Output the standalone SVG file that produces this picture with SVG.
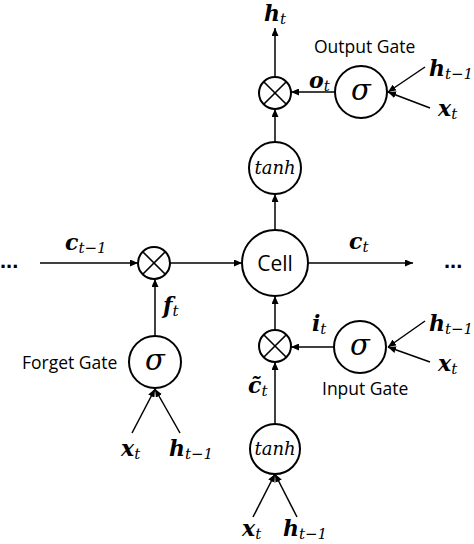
<svg xmlns="http://www.w3.org/2000/svg" width="474" height="544" viewBox="0 0 474 544">
<style>
.node{fill:#fff;stroke:#000;stroke-width:2}
.x{stroke:#000;stroke-width:1.6;fill:none}
.c{stroke:#000;stroke-width:1.5;fill:none}
.m{font-family:"DejaVu Serif",serif;font-style:italic;font-weight:bold;font-size:22px;fill:#000}
.s{font-weight:normal;font-size:15px}
.sig{font-family:"DejaVu Serif",serif;font-style:italic;font-size:29px;fill:#000;text-anchor:middle}
.th{font-family:"DejaVu Serif",serif;font-style:italic;font-size:18px;fill:#000;text-anchor:middle}
.lab{font-family:"Open Sans","Noto Sans",sans-serif;font-size:17.5px;fill:#000}
.dots{font-family:"Liberation Sans",sans-serif;font-size:22px;font-weight:bold;fill:#000}
</style>
<defs>
<marker id="a" markerUnits="userSpaceOnUse" markerWidth="8" markerHeight="7" refX="8" refY="3.5" orient="auto">
<path d="M0,0 L8,3.5 L0,7 z" fill="#000"/>
</marker>
</defs>
<g id="connectors" class="c" marker-end="url(#a)">
<path d="M275,77 L275,28"/>
<path d="M336,92 L291,92"/>
<path d="M425,67 L388,92"/>
<path d="M430,108 L388,92"/>
<path d="M275,142 L275,109"/>
<path d="M275,230 L275,194"/>
<path d="M40,263 L138,263"/>
<path d="M170,263 L242,263"/>
<path d="M308,263 L413,263"/>
<path d="M155,336 L155,279"/>
<path d="M132,433 L155,389"/>
<path d="M180,433 L155,389"/>
<path d="M275,330 L275,296"/>
<path d="M334,347 L291,347"/>
<path d="M425,321 L388,347"/>
<path d="M430,362 L388,347"/>
<path d="M275,424 L275,362"/>
<path d="M253,517 L275,474"/>
<path d="M297,517 L275,474"/>
</g>
<g id="output-mult">
<circle class="node" cx="275" cy="93" r="16"/>
<path class="x" d="M263.7,81.7 L286.3,104.3 M286.3,81.7 L263.7,104.3"/>
</g>
<g id="output-gate">
<circle class="node" cx="361" cy="92" r="26"/>
<text class="sig" x="361" y="100">σ</text>
<text class="lab" x="314" y="53">Output Gate</text>
</g>
<g id="tanh-top">
<circle class="node" cx="275" cy="168" r="26"/>
<text class="th" x="275" y="174">tanh</text>
</g>
<g id="cell">
<circle class="node" cx="275" cy="263" r="33"/>
<text x="275" y="271" text-anchor="middle" font-family="Open Sans, Noto Sans, sans-serif" font-size="21">Cell</text>
</g>
<g id="forget-mult">
<circle class="node" cx="154" cy="263" r="16"/>
<path class="x" d="M142.7,251.7 L165.3,274.3 M165.3,251.7 L142.7,274.3"/>
</g>
<g id="forget-gate">
<circle class="node" cx="155" cy="362" r="26"/>
<text class="sig" x="155" y="370">σ</text>
<text class="lab" x="22" y="369">Forget Gate</text>
</g>
<g id="input-mult">
<circle class="node" cx="275" cy="346" r="16"/>
<path class="x" d="M263.7,334.7 L286.3,357.3 M286.3,334.7 L263.7,357.3"/>
</g>
<g id="input-gate">
<circle class="node" cx="360" cy="347" r="26"/>
<text class="sig" x="360" y="355">σ</text>
<text class="lab" x="322" y="395">Input Gate</text>
</g>
<g id="tanh-bottom">
<circle class="node" cx="275" cy="449" r="25"/>
<text class="th" x="275" y="455">tanh</text>
</g>
<g id="labels">
<text class="m" x="264" y="21">h<tspan class="s" dy="3">t</tspan></text>
<text class="m" x="309" y="88">o<tspan class="s" dy="3">t</tspan></text>
<text class="m" x="429" y="76">h<tspan class="s" dy="3">t−1</tspan></text>
<text class="m" x="438" y="116">x<tspan class="s" dy="3">t</tspan></text>
<text class="dots" x="0" y="268">...</text>
<text class="m" x="65" y="250">c<tspan class="s" dy="3">t−1</tspan></text>
<text class="m" x="349" y="249">c<tspan class="s" dy="3">t</tspan></text>
<text class="dots" x="444" y="268">...</text>
<text class="m" x="163" y="313">f<tspan class="s" dy="3">t</tspan></text>
<text class="m" x="121" y="456">x<tspan class="s" dy="3">t</tspan></text>
<text class="m" x="169" y="456">h<tspan class="s" dy="3">t−1</tspan></text>
<text class="m" x="312" y="331">i<tspan class="s" dy="3">t</tspan></text>
<text class="m" x="429" y="331">h<tspan class="s" dy="3">t−1</tspan></text>
<text class="m" x="438" y="371">x<tspan class="s" dy="3">t</tspan></text>
<text class="m" x="248" y="393">c̃<tspan class="s" dy="3">t</tspan></text>
<text class="m" x="242" y="536">x<tspan class="s" dy="3">t</tspan></text>
<text class="m" x="283" y="536">h<tspan class="s" dy="3">t−1</tspan></text>
</g>
</svg>
